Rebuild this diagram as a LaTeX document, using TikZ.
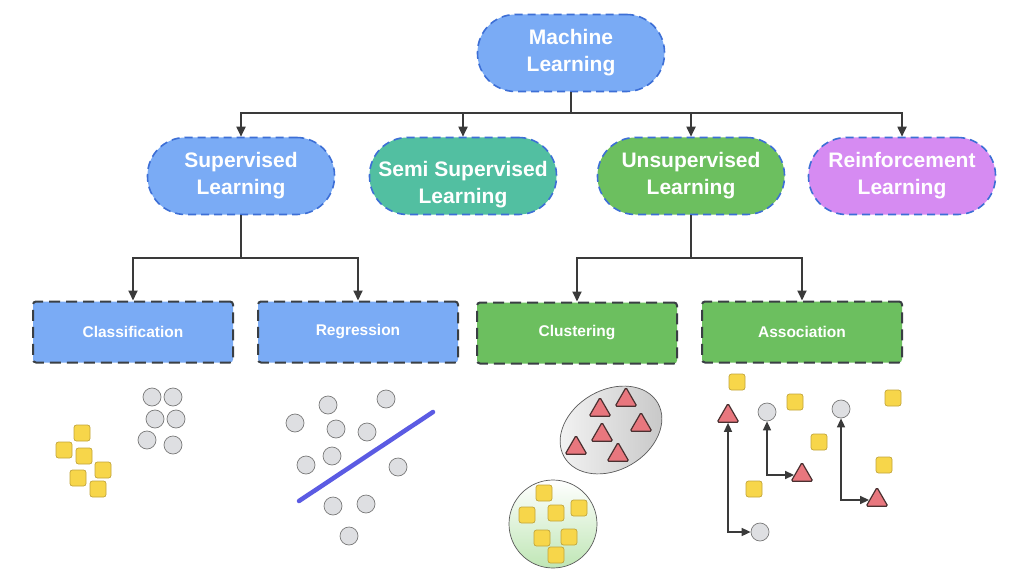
\documentclass[tikz,border=0pt]{standalone}
\usepackage{fontspec}
\setmainfont{Liberation Sans}
\usetikzlibrary{arrows.meta,shapes.geometric}
\definecolor{mlblue}{HTML}{7AABF5}
\definecolor{mlborder}{HTML}{3D6FD6}
\definecolor{semicol}{HTML}{52BFA1}
\definecolor{uncol}{HTML}{6CBF5F}
\definecolor{reinfcol}{HTML}{D68BF2}
\definecolor{boxborder}{HTML}{3A3F44}
\definecolor{conncol}{HTML}{3A3A3A}
\definecolor{sqfill}{HTML}{F7D64A}
\definecolor{sqdraw}{HTML}{C2A53A}
\definecolor{trifill}{HTML}{E8777E}
\definecolor{tridraw}{HTML}{4A3030}
\definecolor{cfill}{HTML}{DEDFE2}
\definecolor{cdraw}{HTML}{7A7A7A}
\definecolor{regline}{HTML}{5B5BE3}
\definecolor{lightgreen}{HTML}{BFE6B5}
\tikzset{
  pilltext/.style={text=white, font=\bfseries\fontsize{21}{27}\selectfont, align=center},
  pill/.style={draw=mlborder, line width=1.6pt, dash pattern=on 8pt off 5pt,
    rounded corners=38pt, minimum width=187pt, minimum height=77pt,
    pilltext, inner sep=0pt},
  leaf/.style={draw=boxborder, line width=2pt, dash pattern=on 11pt off 6pt,
    rounded corners=3pt, minimum width=200pt, minimum height=61pt,
    text=white, font=\bfseries\fontsize{15.5}{18}\selectfont},
  treeline/.style={draw=conncol, line width=1.8pt},
  conn/.style={draw=conncol, line width=1.8pt, -{Triangle[length=10pt,width=9pt]}},
  assoc/.style={draw=conncol, line width=1.5pt, {Triangle[length=9pt,width=8pt]}-{Triangle[length=9pt,width=8pt]}},
  dot/.style={circle, draw=cdraw, fill=cfill, line width=0.7pt, minimum size=18pt, inner sep=0pt},
  sqr/.style={rectangle, draw=sqdraw, fill=sqfill, line width=0.7pt, rounded corners=2.5pt, minimum size=16pt, inner sep=0pt},
  tri/.style={regular polygon, regular polygon sides=3, draw=tridraw, fill=trifill, line width=1.2pt, minimum size=25pt, inner sep=0pt, rounded corners=1.5pt}
}
\begin{document}
\begin{tikzpicture}[x=1pt,y=-1pt]
\useasboundingbox[fill=white] (0,0) rectangle (1024,588);
% top level
\node[pill, fill=mlblue] (ml) at (571,53) {Machine\\Learning};
\node[pill, fill=mlblue] (sup) at (241,176) {Supervised\\Learning};
\node[pill, fill=semicol, label={[pilltext, yshift=-9pt]center:Semi Supervised\\Learning}] (semi) at (463,176) {};
\node[pill, fill=uncol] (unsup) at (691,176) {Unsupervised\\Learning};
\node[pill, fill=reinfcol] (reinf) at (902,176) {Reinforcement\\Learning};
% leaves
\node[leaf, fill=mlblue] (clas) at (133,332) {Classification};
\node[leaf, fill=mlblue] (regr) at (358,332) {Regression};
\node[leaf, fill=uncol] (clus) at (577,333) {Clustering};
\node[leaf, fill=uncol] (asso) at (802,332) {Association};
% tree connectors
\draw[treeline] (ml.south) -- ++(0,21) coordinate (j1);
\draw[conn] (j1) -| (sup.north);
\draw[conn] (j1) -| (semi.north);
\draw[conn] (j1) -| (unsup.north);
\draw[conn] (j1) -| (reinf.north);
\draw[treeline] (sup.south) -- ++(0,43) coordinate (j2);
\draw[conn] (j2) -| (clas.north);
\draw[conn] (j2) -| (regr.north);
\draw[treeline] (unsup.south) -- ++(0,43) coordinate (j3);
\draw[conn] (j3) -| (clus.north);
\draw[conn] (j3) -| (asso.north);
% classification scatter
\foreach \p in {(152,397),(173,397),(155,419),(176,419),(147,440),(173,445)}
  \node[dot] at \p {};
\foreach \p in {(82,433),(64,450),(84,456),(103,470),(78,478),(98,489)}
  \node[sqr] at \p {};
% regression scatter
\foreach \p in {(328,405),(386,399),(295,423),(336,429),(367,432),(306,465),(332,456),(398,467),(333,506),(366,504),(349,536)}
  \node[dot] at \p {};
\coordinate (rl1) at (299,501);
\coordinate (rl2) at (433,412);
\draw[regline, line width=4.5pt, line cap=round] (rl1) -- (rl2);
% clustering
\draw[gray!70!black, line width=0.7pt, shift={(611,430)}, rotate=30, left color=gray!8, right color=gray!45]
  (0,0) ellipse [x radius=54, y radius=40];
\foreach \p in {(600,410),(626,400),(641,425),(602,435),(576,448),(618,455)}
  \node[tri] at \p {};
\draw[gray!70!black, line width=0.7pt, top color=white, bottom color=lightgreen] (553,524) circle [radius=44];
\foreach \p in {(544,493),(527,515),(556,513),(579,508),(542,538),(569,537),(556,555)}
  \node[sqr] at \p {};
% association
\foreach \p in {(737,382),(795,402),(893,398),(819,442),(884,465),(754,489)}
  \node[sqr] at \p {};
\node[tri] (t1) at (728,416) {};
\node[tri] (t2) at (802,475) {};
\node[tri] (t3) at (877,500) {};
\node[dot] (c1) at (767,412) {};
\node[dot] (c2) at (841,409) {};
\node[dot] (c3) at (760,532) {};
\draw[assoc] (c3.west) -| (t1.south);
\draw[assoc] (t2.west) -| (c1.south);
\draw[assoc] (t3.west) -| (c2.south);
\end{tikzpicture}
\end{document}
